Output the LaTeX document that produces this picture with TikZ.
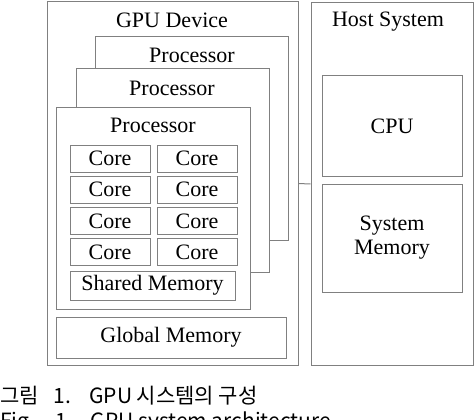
\documentclass[tikz,border=0pt]{standalone}
\usepackage{fontspec}
\setmainfont{Liberation Serif}
\newfontfamily\krfont{Noto Sans CJK KR}
\usetikzlibrary{positioning}

\begin{document}
\begin{tikzpicture}[x=1pt,y=-1pt,
  every node/.style={inner sep=0pt,font=\fontsize{22}{24}\selectfont},
  box/.style={draw=gray,line width=1pt,fill=white},
  core/.style={box,minimum width=80pt,minimum height=27pt},
  caption/.style={anchor=west,font=\krfont\fontsize{21}{23}\selectfont}]
 \useasboundingbox (0,0) rectangle (474,420);

 \node[box,minimum width=251pt,minimum height=363pt] (gpu) at (172.5,183.5) {};
 \node[box,minimum width=162pt,minimum height=362pt] (host) at (392,184) {};
 \node (gpulabel) at (172,20) {GPU Device};
 \node (hostlabel) at (388,22) {Host System};

 \node[box,minimum width=193pt,minimum height=203pt] (proc3) at (191.5,138.5) {};
 \node (proc3label) at (192,55) {Processor};
 \node[box,minimum width=193pt,minimum height=203pt] (proc2) at (172.5,170.5) {};
 \node (proc2label) at (172,88) {Processor};
 \node[box,minimum width=194pt,minimum height=202pt] (proc1) at (153,208) {};
 \node (proc1label) at (153,125) {Processor};

\foreach \r/\y in {1/158.5,2/189.8,3/221,4/252.3}
 \foreach \c/\x in {1/110,2/197}
  \node[core] (core\r\c) at (\x,\y) {Core};

 \node[box,minimum width=165pt,minimum height=29pt] (shared) at (152.5,285.5) {Shared Memory};
 \node[box,minimum width=230pt,minimum height=41pt] (global) at (171,337.5) {Global Memory};

 \node[box,minimum width=140pt,minimum height=100pt] (cpu) at (392,126) {CPU};
 \node[box,minimum width=140pt,minimum height=108pt,align=center] (sysmem) at (392,238) {System\\Memory};

 \draw[gray,line width=1pt] (gpu.east) -- (host.west);

 \node[caption] (cap) at (0,396) {그림\hspace{15pt}1.\hspace{18pt}GPU 시스템의 구성};
 \node[caption,anchor=north west] (capen) at (0,412) {Fig.\hspace{20pt}1.\hspace{18pt}GPU system architecture};
\end{tikzpicture}
\end{document}
